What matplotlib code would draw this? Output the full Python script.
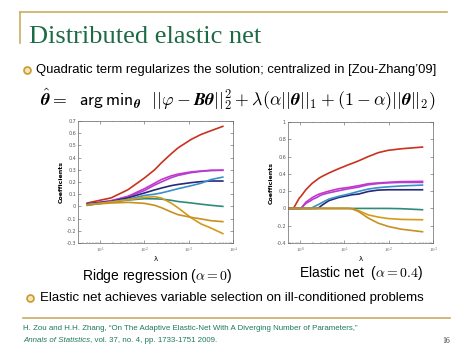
# slide "Distributed elastic net": coefficient paths, ridge vs elastic net
import matplotlib.pyplot as plt
from matplotlib.lines import Line2D
import numpy as np

# ---- dati ----
# ridge (alpha = 0): log10(lambda) e coefficienti
ridge_logx = [0.71, 1.25, 1.63, 2.0, 2.23, 2.38, 2.6, 2.76, 3.06, 3.28, 3.5, 3.77]
ridge_rosso = [0.028, 0.07, 0.137, 0.233, 0.30, 0.356, 0.43, 0.48, 0.55, 0.59, 0.62, 0.656]
ridge_magenta1 = [0.02, 0.047, 0.083, 0.145, 0.19, 0.22, 0.25, 0.265, 0.283, 0.29, 0.296, 0.296]
ridge_magenta2 = [0.02, 0.045, 0.078, 0.13, 0.175, 0.20, 0.235, 0.254, 0.277, 0.287, 0.294, 0.297]
ridge_blu = [0.02, 0.04, 0.07, 0.11, 0.135, 0.15, 0.17, 0.18, 0.195, 0.203, 0.208, 0.208]
ridge_azzurro = [0.014, 0.036, 0.058, 0.09, 0.10, 0.11, 0.13, 0.145, 0.17, 0.19, 0.22, 0.24]
ridge_verde = [0.009, 0.036, 0.052, 0.063, 0.062, 0.06, 0.05, 0.04, 0.028, 0.018, 0.009, 0.0]
ridge_oro1 = [0.014, 0.036, 0.055, 0.074, 0.08, 0.069, 0.028, -0.012, -0.095, -0.144, -0.177, -0.223]
ridge_oro2 = [0.014, 0.028, 0.033, 0.025, 0.009, -0.01, -0.045, -0.068, -0.09, -0.103, -0.117, -0.125]

# elastic net (alpha = 0.4)
enet_logx = [-0.25, -0.148, -0.015, 0.022, 0.133, 0.244, 0.281, 0.393, 0.43, 0.504,
             0.652, 0.874, 1.096, 1.17, 1.319, 1.541, 1.763, 1.985, 2.281, 2.763]
enet_rosso = [0.0, 0.0, 0.12, 0.14, 0.216, 0.275, 0.293, 0.336, 0.35, 0.372,
              0.41, 0.46, 0.506, 0.52, 0.55, 0.60, 0.645, 0.672, 0.69, 0.71]
enet_magenta1 = [0.0, 0.0, 0.0, 0.0, 0.073, 0.113, 0.127, 0.157, 0.166, 0.178,
                 0.20, 0.228, 0.243, 0.25, 0.263, 0.286, 0.295, 0.302, 0.31, 0.313]
enet_magenta2 = [0.0, 0.0, 0.0, 0.0, 0.058, 0.09, 0.104, 0.13, 0.143, 0.16,
                 0.18, 0.205, 0.228, 0.234, 0.247, 0.274, 0.288, 0.296, 0.301, 0.301]
enet_blu = [0.0, 0.0, 0.0, 0.0, 0.0, 0.0, 0.0, 0.0, 0.01, 0.04,
            0.09, 0.127, 0.15, 0.158, 0.166, 0.196, 0.212, 0.216, 0.216, 0.216]
enet_azzurro = [0.0, 0.0, 0.0, 0.0, 0.0, 0.0, 0.01, 0.04, 0.048, 0.07,
                0.108, 0.14, 0.166, 0.176, 0.197, 0.224, 0.24, 0.25, 0.26, 0.27]
enet_verde = [0.0, 0.0, 0.0, 0.0, 0.0, 0.0, 0.0, 0.0, 0.0, 0.0,
              0.0, 0.0, 0.0, 0.0, 0.0, 0.0, 0.0, 0.0, -0.003, -0.015]
enet_oro1 = [0.0, 0.0, 0.0, 0.0, 0.0, 0.0, 0.0, 0.0, 0.0, 0.0,
             0.0, 0.0, 0.0, -0.003, -0.025, -0.075, -0.10, -0.117, -0.127, -0.131]
enet_oro2 = [0.0, 0.0, 0.0, 0.0, 0.0, 0.0, 0.0, 0.0, 0.0, 0.0,
             0.0, 0.0, 0.0, -0.005, -0.035, -0.112, -0.17, -0.208, -0.24, -0.27]

colori = ["#c8321e", "#cc33cc", "#b040d0", "#24297a", "#3a90c8", "#2e8b7a", "#d49a1c", "#c89020"]

ridge_curve = [ridge_rosso, ridge_magenta1, ridge_magenta2, ridge_blu,
               ridge_azzurro, ridge_verde, ridge_oro1, ridge_oro2]
enet_curve = [enet_rosso, enet_magenta1, enet_magenta2, enet_blu,
              enet_azzurro, enet_verde, enet_oro1, enet_oro2]

W, H = 474, 355
oro = "#c9ad62"
verde_titolo = "#1d6b45"

plt.rcParams["mathtext.fontset"] = "cm"
fig = plt.figure(figsize=(W / 100, H / 100), dpi=100)


def fx(px):
    return px / W


def fy(py):
    return 1 - py / H


def pannello(rect, logx, curve, ylim, yticks, xticks, xlim):
    ax = fig.add_axes(rect)
    x = 10 ** np.array(logx)
    for serie, c in zip(curve, colori):
        ax.plot(x, serie, color=c, linewidth=1.2)
    ax.set_xscale("log")
    ax.set_xlim(10 ** xlim[0], 10 ** xlim[1])
    ax.set_ylim(*ylim)
    ax.set_yticks(yticks)
    ax.set_yticklabels([f"{t:g}" for t in yticks])
    ax.set_xticks([10.0 ** k for k in xticks])
    ax.set_xticklabels([f"$10^{{{k}}}$" for k in xticks])
    ax.tick_params(labelsize=3.5, colors="#555555", length=2, width=0.4, direction="in",
                   pad=1.5, top=True, right=True, which="both")
    ax.tick_params(which="minor", length=1, width=0.3)
    for s in ax.spines.values():
        s.set_linewidth(0.5)
        s.set_color("#666666")
    ax.set_ylabel("Coefficients", fontsize=4.5, fontweight="bold", labelpad=2)
    ax.set_xlabel("λ", fontsize=5, labelpad=1)
    return ax


pannello([fx(78), fy(243), fx(155), 122 / H], ridge_logx, ridge_curve,
         (-0.3, 0.7), [round(v, 1) for v in np.arange(-0.3, 0.71, 0.1)],
         [1, 2, 3, 4], (0.5, 4.0))
pannello([fx(288), fy(243), fx(145), 121 / H], enet_logx, enet_curve,
         (-0.4, 1.0), [round(v, 1) for v in np.arange(-0.4, 1.01, 0.2)],
         [0, 1, 2, 3], (-0.27, 3.0))

# cornice della slide
fig.add_artist(Line2D([fx(20), fx(447)], [fy(12), fy(12)], color=oro, linewidth=1.2))
fig.add_artist(Line2D([fx(20), fx(20)], [fy(12), fy(43)], color=oro, linewidth=1.2))
fig.add_artist(Line2D([fx(23), fx(450)], [fy(318), fy(318)], color=oro, linewidth=1.2))

fig.text(fx(29), fy(43), "Distributed elastic net", fontsize=19, family="Liberation Serif",
         color=verde_titolo, va="baseline")


def punto(px, py):
    fig.add_artist(Line2D([fx(px)], [fy(py)], marker="o", markersize=5,
                          markerfacecolor="#f3e6b8", markeredgecolor="#c99a2e",
                          markeredgewidth=1.2))


punto(27, 70)
fig.text(fx(36), fy(70), "Quadratic term regularizes the solution; centralized in [Zou-Zhang’09]",
         fontsize=9.35, family="Liberation Sans", va="center")

fig.text(fx(40), fy(99),
         r"$\hat{\boldsymbol{\theta}} =\ \ \mathsf{arg\,min}_{\boldsymbol{\theta}}\ \ "
         r"||\boldsymbol{\varphi} - \boldsymbol{B\theta}||_2^2 + \lambda(\alpha||\boldsymbol{\theta}||_1"
         r" + (1-\alpha)||\boldsymbol{\theta}||_2)$",
         fontsize=12.8, va="center")

fig.text(fx(157), fy(276), r"Ridge regression ($\alpha = 0$)", fontsize=10,
         family="Liberation Sans", ha="center", va="center")
fig.text(fx(361), fy(273), r"Elastic net  ($\alpha = 0.4$)", fontsize=10,
         family="Liberation Sans", ha="center", va="center")

punto(30, 298)
fig.text(fx(40), fy(298), "Elastic net achieves variable selection on ill-conditioned problems",
         fontsize=9.5, family="Liberation Sans", va="center")

# riferimento bibliografico, con il nome della rivista in corsivo
verde_rif = "#1f7a55"
fig.text(fx(23), fy(329),
         "H. Zou and H.H. Zhang, “On The Adaptive Elastic-Net With A Diverging Number of Parameters,”",
         fontsize=5.7, family="Liberation Sans", color=verde_rif, va="center")
rivista = fig.text(fx(23), fy(341), "Annals of Statistics", fontsize=5.7, style="italic",
                   family="Liberation Sans", color=verde_rif, va="center")
fig.canvas.draw()
fine = rivista.get_window_extent(fig.canvas.get_renderer()).x1
fig.text(fine / W, fy(341), ", vol. 37, no. 4, pp. 1733-1751 2009.",
         fontsize=5.7, family="Liberation Sans", color=verde_rif, va="center")
fig.text(fx(446), fy(341), "16", fontsize=5.5, family="Liberation Serif",
         color="#333333", va="center", ha="center")

fig.savefig("out.png", dpi=100)
